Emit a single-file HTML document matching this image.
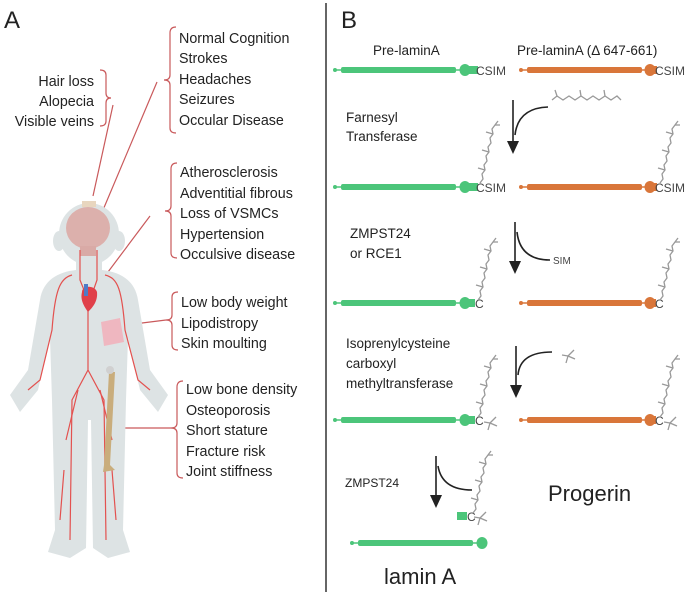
<!DOCTYPE html>
<html><head><meta charset="utf-8"><style>
html,body{margin:0;padding:0;background:#fff;}
svg{display:block;font-family:"Liberation Sans",sans-serif;}
</style></head><body>
<svg width="685" height="592" viewBox="0 0 685 592" xmlns="http://www.w3.org/2000/svg">
<defs>
<g id="chain" fill="none" stroke="#999" stroke-width="1.3">
<polyline points="0,0 3,-4 2,-9 5,-13 4,-18 7,-22 6,-27 9,-31 8,-36 11,-40 10,-45 13,-49 12,-54 15,-58 18,-62"/>
<line x1="5" y1="-13" x2="-2" y2="-15"/><line x1="9" y1="-31" x2="2" y2="-33"/><line x1="13" y1="-49" x2="6" y2="-51"/>
<line x1="15" y1="-58" x2="20" y2="-58"/>
</g>
<g id="methyl" fill="none" stroke="#999" stroke-width="1.3">
<line x1="0" y1="0" x2="6" y2="-6"/><line x1="0" y1="0" x2="7" y2="3"/><line x1="0" y1="0" x2="-2" y2="7"/><line x1="0" y1="0" x2="-6" y2="-1"/>
</g>
</defs>

<!-- Panel A -->
<text x="4" y="28" font-size="24" fill="#222">A</text>
<g font-size="14.3" fill="#222">
<text x="94" y="86" text-anchor="end">Hair loss</text>
<text x="94" y="106" text-anchor="end">Alopecia</text>
<text x="94" y="126" text-anchor="end">Visible veins</text>
<text x="179" y="43">Normal Cognition</text>
<text x="179" y="63">Strokes</text>
<text x="179" y="84">Headaches</text>
<text x="179" y="104">Seizures</text>
<text x="179" y="125">Occular Disease</text>
<text x="180" y="177">Atherosclerosis</text>
<text x="180" y="198">Adventitial fibrous</text>
<text x="180" y="218">Loss of VSMCs</text>
<text x="180" y="239">Hypertension</text>
<text x="180" y="259">Occulsive disease</text>
<text x="181" y="307">Low body weight</text>
<text x="181" y="328">Lipodistropy</text>
<text x="181" y="348">Skin moulting</text>
<text x="186" y="394">Low bone density</text>
<text x="186" y="415">Osteoporosis</text>
<text x="186" y="435">Short stature</text>
<text x="186" y="456">Fracture risk</text>
<text x="186" y="476">Joint stiffness</text>
</g>
<g fill="none" stroke="#c9595b" stroke-width="1.2">
<path d="M100,70 Q106,70 106,75 L106,93 Q106,98 111,98 Q106,98 106,103 L106,121 Q106,126 100,126"/>
<path d="M176,27 Q170,27 170,33 L170,75 Q170,80 164,80 Q170,80 170,85 L170,128 Q170,133 176,133"/>
<path d="M177,163 Q171,163 171,169 L171,206 Q171,211 165,211 Q171,211 171,216 L171,253 Q171,258 177,258"/>
<path d="M178,292 Q172,292 172,297 L172,315 Q172,320 166,320 Q172,320 172,325 L172,345 Q172,350 178,350"/>
<path d="M183,381 Q177,381 177,387 L177,423 Q177,428 171,428 Q177,428 177,433 L177,473 Q177,478 183,478"/>
<line x1="113" y1="105" x2="93" y2="196"/>
<line x1="157" y1="82" x2="103" y2="210"/>
<line x1="150" y1="216" x2="108" y2="272"/>
<line x1="166" y1="320" x2="118" y2="326"/>
<line x1="171" y1="428" x2="115" y2="428"/>
</g>
<!-- body -->
<g fill="#dde3e4">
<ellipse cx="89" cy="234" rx="30" ry="31"/>
<ellipse cx="59" cy="241" rx="6" ry="10"/>
<ellipse cx="119" cy="241" rx="6" ry="10"/>
<path d="M76,255 L76,270 C58,272 43,280 40,300 L28,370 L10,395 L20,412 L38,390 L50,338 L52,400 L55,530 L48,552 L70,558 L86,548 L88,420 L91,420 L93,548 L108,558 L130,552 L123,530 L126,400 L128,338 L140,390 L158,412 L168,395 L150,370 L138,300 C135,280 120,272 102,270 L102,255 Z"/>
</g>
<ellipse cx="88" cy="228" rx="22" ry="21" fill="#dcb0ac"/>
<rect x="80" y="246" width="16" height="10" fill="#d9aaa6"/>
<rect x="82" y="201" width="14" height="6" fill="#e8d6bf"/>
<g fill="none" stroke="#e3514f" stroke-width="1.2">
<path d="M80,250 L80,280 L88,300 M97,250 L97,280 L90,300"/>
<path d="M88,300 L88,370 L72,400 L70,540 M88,370 L104,400 L106,540"/>
<path d="M72,275 C60,278 55,290 52,330 L40,380 L28,390 M105,275 C118,278 122,290 125,330 L138,380 L150,390"/>
<path d="M78,390 L66,440 M100,390 L112,440 M64,470 L60,520 M112,470 L116,520"/>
</g>
<path d="M82,292 C82,285 95,285 97,292 C98,302 92,308 88,312 C84,306 80,300 82,292Z" fill="#e0404a"/>
<rect x="84" y="284" width="4" height="12" fill="#4f7bc6"/>
<path d="M101,322 L120,318 L124,342 L104,346 Z" fill="#efb7c0"/>
<path d="M109,372 L115,372 L110,465 L115,470 L103,472 L104,465 Z" fill="#c9ad7c"/>
<circle cx="110" cy="370" r="4" fill="#d0d0d0"/>

<line x1="326" y1="3" x2="326" y2="592" stroke="#333" stroke-width="1.5"/>

<!-- Panel B -->
<text x="341" y="28" font-size="24" fill="#222">B</text>
<g font-size="13.5" fill="#222">
<text x="373" y="55">Pre-laminA</text>
<text x="517" y="55">Pre-laminA (Δ 647-661)</text>
<text x="346" y="122">Farnesyl</text>
<text x="346" y="141">Transferase</text>
<text x="350" y="238">ZMPST24</text>
<text x="350" y="258">or RCE1</text>
<text x="346" y="348">Isoprenylcysteine</text>
<text x="346" y="368">carboxyl</text>
<text x="346" y="388">methyltransferase</text>
<text x="345" y="487" font-size="12">ZMPST24</text>
</g>
<text x="548" y="501" font-size="22" fill="#222">Progerin</text>
<text x="384" y="584" font-size="22" fill="#222">lamin A</text>

<!-- green proteins -->
<g fill="#4cc57a" stroke="#4cc57a">
<g id="gp">
<circle cx="335" cy="70" r="2" stroke="none"/>
<line x1="335" y1="70" x2="460" y2="70" stroke-width="1.5"/>
<rect x="341" y="67" width="115" height="6" rx="2" stroke="none"/>
<ellipse cx="465" cy="70" rx="5.5" ry="6" stroke="none"/>
</g>
<rect x="465" y="66" width="13" height="8" stroke="none"/>
<use href="#gp" y="117"/><rect x="465" y="183" width="13" height="8" stroke="none"/>
<use href="#gp" y="233"/><rect x="465" y="299" width="10" height="8" stroke="none"/>
<use href="#gp" y="350"/><rect x="465" y="416" width="10" height="8" stroke="none"/>
<use href="#gp" x="17" y="473"/>
<rect x="457" y="512" width="10" height="8" stroke="none"/>
</g>
<!-- orange -->
<g fill="#d9763a" stroke="#d9763a">
<g id="op">
<circle cx="521" cy="70" r="2" stroke="none"/>
<line x1="521" y1="70" x2="650" y2="70" stroke-width="1.5"/>
<rect x="527" y="67" width="115" height="6" rx="2" stroke="none"/>
<ellipse cx="650" cy="70" rx="5.5" ry="6" stroke="none"/>
</g>
<rect x="650" y="66" width="7" height="8" stroke="none"/>
<use href="#op" y="117"/><rect x="650" y="183" width="7" height="8" stroke="none"/>
<use href="#op" y="233"/><rect x="650" y="299" width="6" height="8" stroke="none"/>
<use href="#op" y="350"/><rect x="650" y="416" width="6" height="8" stroke="none"/>
</g>
<g font-size="12" fill="#444">
<text x="476" y="75">CSIM</text><text x="655" y="75">CSIM</text>
<text x="476" y="192">CSIM</text><text x="655" y="192">CSIM</text>
<text x="475" y="308">C</text><text x="655" y="308">C</text>
<text x="475" y="425">C</text><text x="655" y="425">C</text>
<text x="467" y="521">C</text>
<text x="553" y="264" font-size="10">SIM</text>
</g>
<use href="#chain" x="480" y="183"/><use href="#chain" x="660" y="183"/>
<use href="#chain" x="478" y="300"/><use href="#chain" x="660" y="300"/>
<use href="#chain" x="478" y="417"/><use href="#chain" x="660" y="417"/>
<use href="#chain" x="473" y="513"/>
<use href="#methyl" x="490" y="423"/><use href="#methyl" x="670" y="423"/>
<use href="#methyl" x="480" y="518"/>
<use href="#methyl" x="568" y="356"/>
<g fill="none" stroke="#999" stroke-width="1.3">
<polyline points="552,100 557,96 563,100 569,96 575,100 581,96 587,100 593,96 599,100 605,96 611,100 617,96 621,100"/>
<line x1="557" y1="96" x2="555" y2="90"/><line x1="581" y1="96" x2="580" y2="90"/><line x1="605" y1="96" x2="604" y2="90"/>
</g>
<!-- arrows -->
<g stroke="#222" stroke-width="1.6" fill="none">
<line x1="513" y1="100" x2="513" y2="142"/><path d="M515,135 Q518,108 548,107"/>
<line x1="515" y1="222" x2="515" y2="262"/><path d="M517,232 Q520,260 550,260"/>
<line x1="516" y1="346" x2="516" y2="386"/><path d="M518,375 Q520,352 552,352"/>
<line x1="436" y1="456" x2="436" y2="496"/><path d="M438,466 Q442,490 472,490"/>
</g>
<g fill="#222">
<path d="M507,141 L519,141 L513,154Z"/>
<path d="M509,261 L521,261 L515,274Z"/>
<path d="M510,385 L522,385 L516,398Z"/>
<path d="M430,495 L442,495 L436,508Z"/>
</g>
</svg>
</body></html>
